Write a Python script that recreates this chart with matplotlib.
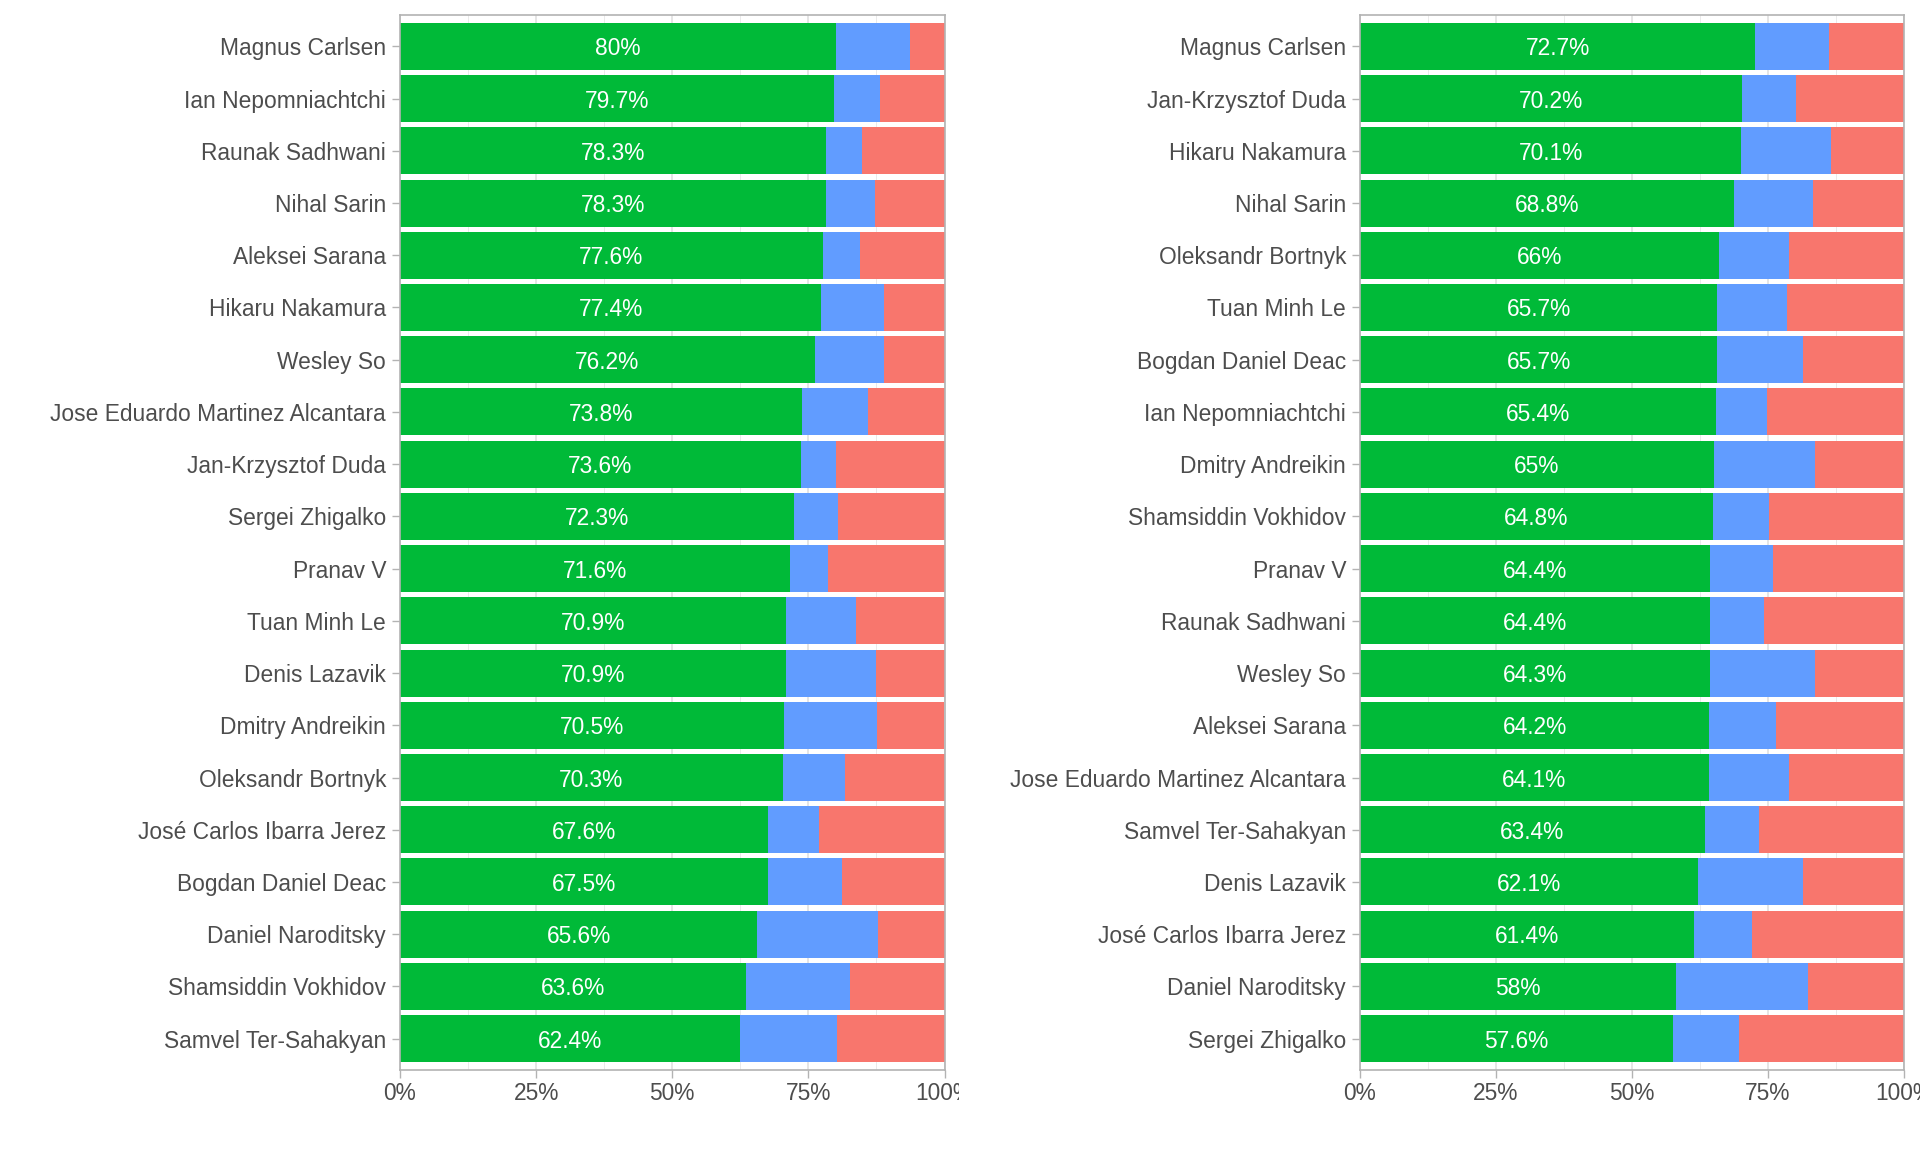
import numpy as np
import matplotlib
matplotlib.use("Agg")
import matplotlib.pyplot as plt
from matplotlib.transforms import Bbox, TransformedBbox

# Left panel: players ordered top to bottom
names_left = ["Magnus Carlsen", "Ian Nepomniachtchi", "Raunak Sadhwani", "Nihal Sarin",
              "Aleksei Sarana", "Hikaru Nakamura", "Wesley So",
              "Jose Eduardo Martinez Alcantara", "Jan-Krzysztof Duda", "Sergei Zhigalko",
              "Pranav V", "Tuan Minh Le", "Denis Lazavik", "Dmitry Andreikin",
              "Oleksandr Bortnyk", "José Carlos Ibarra Jerez", "Bogdan Daniel Deac",
              "Daniel Naroditsky", "Shamsiddin Vokhidov", "Samvel Ter-Sahakyan"]
win_left = [80, 79.7, 78.3, 78.3, 77.6, 77.4, 76.2, 73.8, 73.6, 72.3,
            71.6, 70.9, 70.9, 70.5, 70.3, 67.6, 67.5, 65.6, 63.6, 62.4]
draw_left = [13.7, 8.5, 6.6, 9.0, 6.9, 11.5, 12.7, 12.2, 6.5, 8.2,
             7.0, 12.9, 16.5, 17.1, 11.5, 9.4, 13.7, 22.2, 19.1, 17.9]

# Right panel
names_right = ["Magnus Carlsen", "Jan-Krzysztof Duda", "Hikaru Nakamura", "Nihal Sarin",
               "Oleksandr Bortnyk", "Tuan Minh Le", "Bogdan Daniel Deac",
               "Ian Nepomniachtchi", "Dmitry Andreikin", "Shamsiddin Vokhidov",
               "Pranav V", "Raunak Sadhwani", "Wesley So", "Aleksei Sarana",
               "Jose Eduardo Martinez Alcantara", "Samvel Ter-Sahakyan", "Denis Lazavik",
               "José Carlos Ibarra Jerez", "Daniel Naroditsky", "Sergei Zhigalko"]
win_right = [72.7, 70.2, 70.1, 68.8, 66, 65.7, 65.7, 65.4, 65, 64.8,
             64.4, 64.4, 64.3, 64.2, 64.1, 63.4, 62.1, 61.4, 58, 57.6]
draw_right = [13.5, 9.9, 16.5, 14.4, 12.8, 12.8, 15.8, 9.5, 18.6, 10.4,
              11.6, 9.8, 19.3, 12.2, 14.7, 10.0, 19.3, 10.6, 24.3, 12.1]

GREEN, BLUE, RED = "#00BA38", "#619CFF", "#F8766D"
TEXT_COL = "#4D4D4D"
FS = 16.4
plt.rcParams["font.family"] = ["Liberation Sans", "DejaVu Sans"]

W, H = 1920, 1152
fig = plt.figure(figsize=(W / 100, H / 100), dpi=100)


def draw_panel(ax, names, win, draw):
    win = np.array(win, dtype=float)
    draw = np.array(draw, dtype=float)
    loss = 100 - win - draw
    n = len(names)
    y = np.arange(n, 0, -1)
    ax.barh(y, win, height=0.9, color=GREEN, zorder=2)
    ax.barh(y, draw, left=win, height=0.9, color=BLUE, zorder=2)
    ax.barh(y, loss, left=win + draw, height=0.9, color=RED, zorder=2)
    for yi, w in zip(y, win):
        ax.text(w / 2, yi, f"{w:g}%", color="white", ha="center",
                va="center_baseline", fontsize=FS, zorder=3)
    ax.set_xlim(0, 100)
    ax.set_ylim(0.4, n + 0.6)
    ax.set_yticks(y)
    ax.set_yticklabels(names)
    ax.set_xticks([0, 25, 50, 75, 100])
    ax.set_xticklabels(["0%", "25%", "50%", "75%", "100%"])
    ax.set_xticks([12.5, 37.5, 62.5, 87.5], minor=True)
    ax.grid(axis="x", which="major", color="#DEDEDE", linewidth=1.1, zorder=0)
    ax.grid(axis="x", which="minor", color="#E6E6E6", linewidth=0.6, zorder=0)
    ax.set_axisbelow(True)
    ax.tick_params(axis="both", which="major", colors="#B3B3B3", labelcolor=TEXT_COL,
                   labelsize=FS, length=6, width=1, pad=4)
    ax.tick_params(axis="x", which="major", pad=2.5)
    ax.tick_params(axis="x", which="minor", length=0)
    for s in ax.spines.values():
        s.set_color("#B3B3B3")
        s.set_linewidth(1.2)


ax1 = fig.add_axes([400 / W, 82 / H, 544.5 / W, 1055 / H])
ax2 = fig.add_axes([1360 / W, 82 / H, 544 / W, 1055 / H])
draw_panel(ax1, names_left, win_left, draw_left)
draw_panel(ax2, names_right, win_right, draw_right)

# the left panel's last tick label is cut at the panel's right edge
clip = TransformedBbox(Bbox([[0, 0], [959 / W, 1]]), fig.transFigure)
last = ax1.xaxis.get_major_ticks()[-1].label1
last.set_clip_box(clip)
last.set_clip_on(True)

fig.savefig("out.png", dpi=100, facecolor="white")
